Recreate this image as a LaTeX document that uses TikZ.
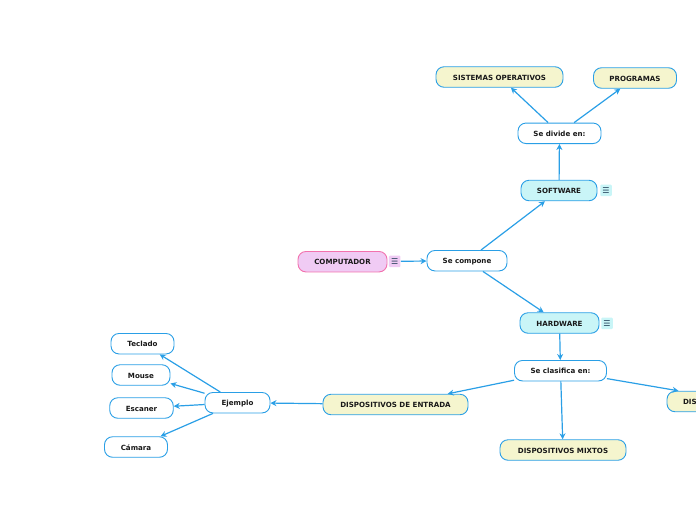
\documentclass[tikz,border=0pt]{standalone}
\usepackage{fontspec}
\setmainfont{DejaVu Sans}
\usepackage{tikz}
\usetikzlibrary{arrows.meta}

\definecolor{linkblue}{HTML}{2A9FE6}
\definecolor{rootpink}{HTML}{F0CBF4}
\definecolor{rootedge}{HTML}{F272AE}
\definecolor{maincyan}{HTML}{C9F5F7}
\definecolor{subyellow}{HTML}{F5F5CE}
\definecolor{iconmark}{HTML}{24405A}

\begin{document}
\begin{tikzpicture}[x=1pt, y=-1pt]
\tikzstyle{every node} = [rounded corners=8pt, line width=.9pt, inner sep=0pt, minimum height=20.5pt, text height=6.5pt, text depth=0pt, font=\bfseries\fontsize{7.1}{8}\selectfont, text=black!90]
\tikzstyle{plain} = [draw=linkblue, fill=white]
\tikzstyle{root} = [draw=rootedge, fill=rootpink]
\tikzstyle{main} = [draw=linkblue, fill=maincyan]
\tikzstyle{leaf} = [draw=linkblue, fill=subyellow]
\tikzstyle{icon} = [rounded corners=1pt, minimum width=11.5pt, minimum height=11.5pt, font=\fontsize{8}{8}\selectfont, text=iconmark]
\useasboundingbox (0, 0) rectangle (696, 520);
\clip (0, 0) rectangle (696, 520);

\node[root, minimum width=89pt] (computador) at (342.5, 261.7) {COMPUTADOR};
\node[plain, minimum width=80pt] (compone) at (467, 260.7) {Se compone};
\node[main, minimum width=76pt] (software) at (559, 190.5) {SOFTWARE};
\node[main, minimum width=79pt] (hardware) at (559.5, 323) {HARDWARE};
\node[plain, minimum width=83pt] (divide) at (559.5, 133.3) {Se divide en:};
\node[leaf, minimum width=127pt] (sistemas) at (499.5, 77) {SISTEMAS OPERATIVOS};
\node[leaf, minimum width=83pt] (programas) at (635, 78) {PROGRAMAS};
\node[plain, minimum width=92pt] (clasifica) at (560.5, 370.7) {Se clasifica en:};
\node[leaf, minimum width=145pt] (entrada) at (395.5, 404.5) {DISPOSITIVOS DE ENTRADA};
\node[leaf, minimum width=126pt] (mixtos) at (563, 450) {DISPOSITIVOS MIXTOS};
\node[leaf, minimum width=60pt, text width=28pt, align=left] (salida) at (697, 401.5) {DIS};
\node[plain, minimum width=65pt] (ejemplo) at (237.5, 402.7) {Ejemplo};
\node[plain, minimum width=63pt] (teclado) at (142.5, 343.7) {Teclado};
\node[plain, minimum width=58pt] (mouse) at (141, 375) {Mouse};
\node[plain, minimum width=63.5pt] (escaner) at (141.5, 408) {Escaner};
\node[plain, minimum width=63pt] (camara) at (136, 447) {Cámara};

\node[icon, fill=rootpink] (iconc) at (394.7, 261.3) {\char"2630};
\node[icon, fill=maincyan] (icons) at (606, 190.3) {\char"2630};
\node[icon, fill=maincyan] (iconh) at (607, 323.3) {\char"2630};

\foreach \from/\to in {iconc/compone, compone/software, compone/hardware, software/divide, divide/sistemas, divide/programas, hardware/clasifica, clasifica/entrada, clasifica/mixtos, entrada/ejemplo, ejemplo/teclado, ejemplo/mouse, ejemplo/escaner, ejemplo/camara}
\draw [-{Stealth[length=6pt, width=6pt]}, linkblue, line width=1.2pt] (\from) -- (\to);
\draw [-{Stealth[length=6pt, width=6pt]}, linkblue, line width=1.2pt] (clasifica) -- (salida.150);
\end{tikzpicture}
\end{document}
